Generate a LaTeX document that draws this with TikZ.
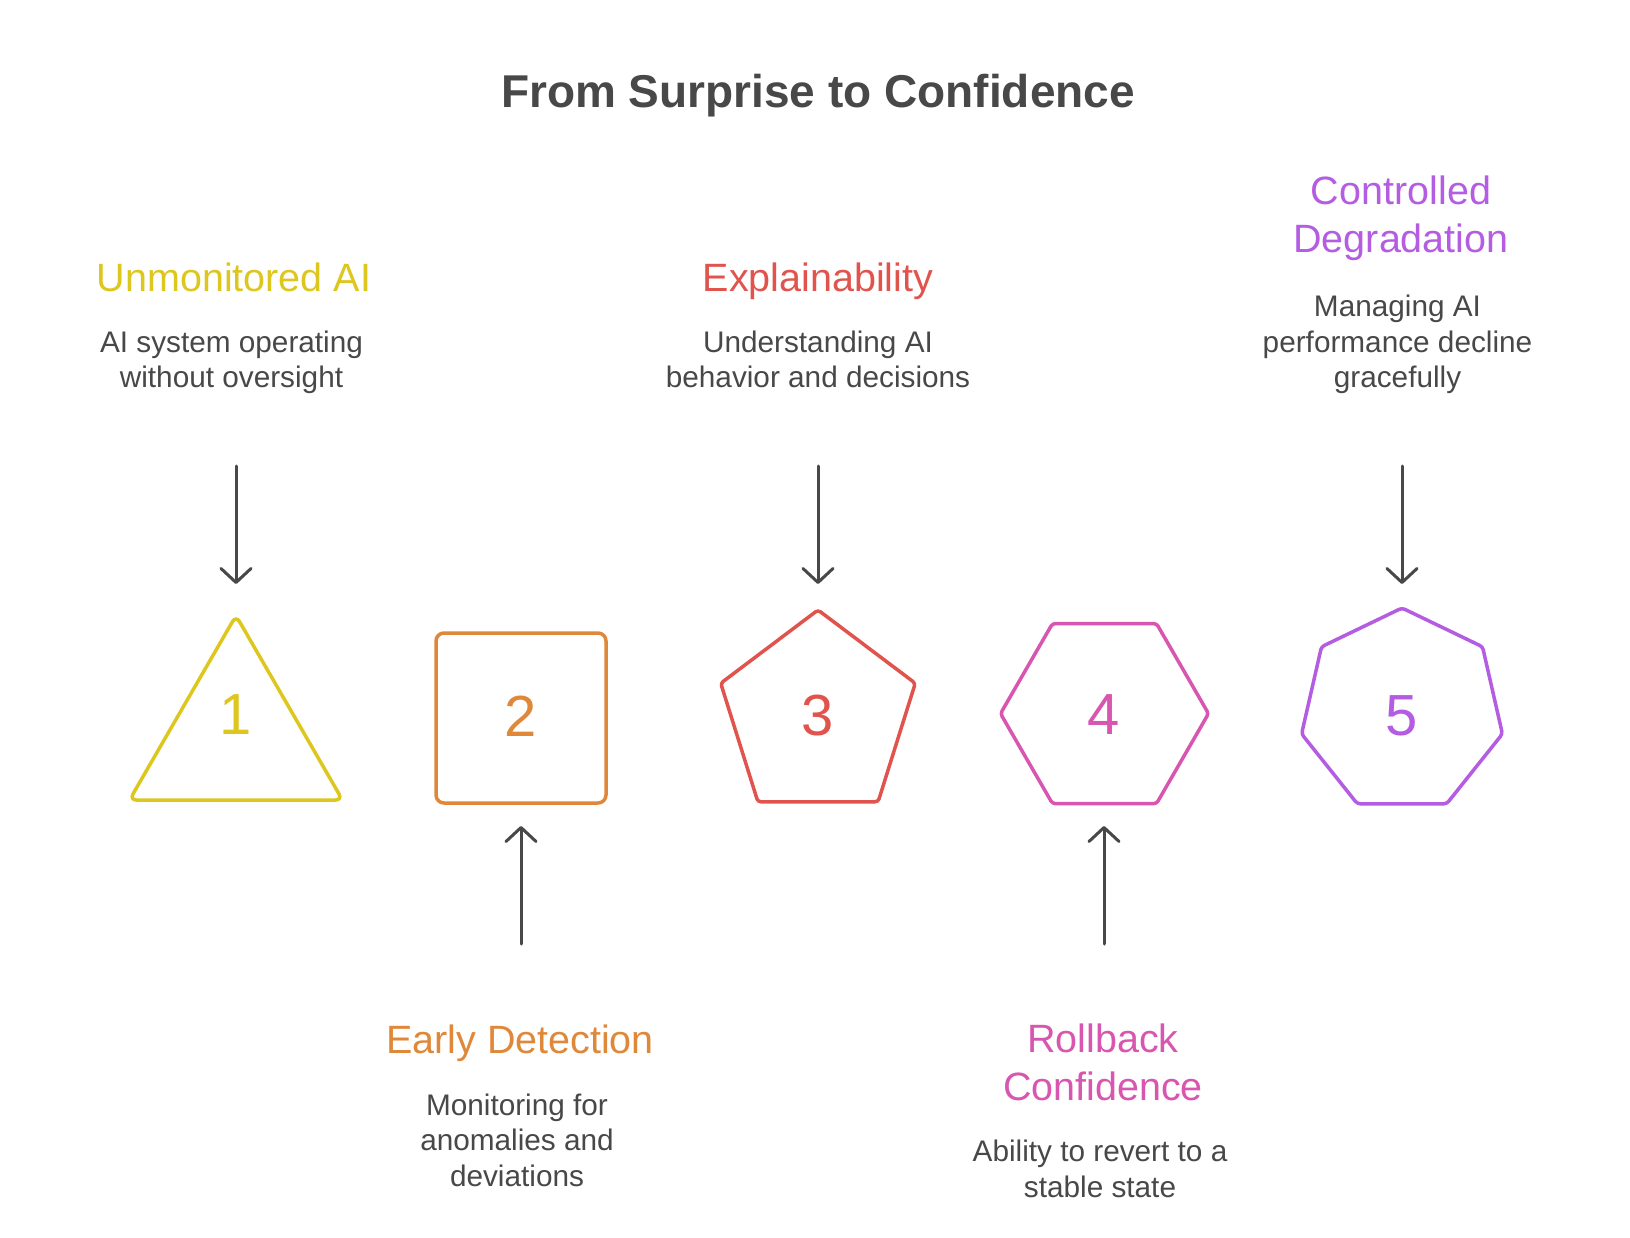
\documentclass[tikz,border=0pt]{standalone}
\usepackage{fontspec}
\setmainfont{Liberation Sans}
\usetikzlibrary{shapes.geometric,arrows.meta}
\definecolor{yel}{RGB}{221,199,30}
\definecolor{org}{RGB}{224,136,58}
\definecolor{red}{RGB}{225,84,78}
\definecolor{pnk}{RGB}{216,86,176}
\definecolor{pur}{RGB}{180,92,226}
\definecolor{txt}{RGB}{72,72,72}
\begin{document}
\begin{tikzpicture}[x=1pt,y=-1pt,
  head/.style={anchor=base, align=center, inner sep=0pt, font=\fontsize{39.5}{48}\selectfont},
  desc/.style={anchor=base, align=center, inner sep=0pt, text=txt, font=\fontsize{29.75}{35.5}\selectfont},
  num/.style={inner sep=0pt, font=\fontsize{58}{58}\selectfont},
  poly/.style={regular polygon, line width=3.5pt, inner sep=0pt, line join=round, rounded corners=3pt},
  arr/.style={draw=txt, line width=3pt, line cap=round,
    -{Straight Barb[length=14pt,width=30pt,line cap=round,line join=round]}}]
\useasboundingbox (0,0) rectangle (1630,1238);
\fill[white] (0,0) rectangle (1630,1238);

% title
\node[anchor=base, inner sep=0pt, text=txt, font=\fontsize{46}{46}\selectfont\bfseries] (title) at (818,108) {From Surprise to Confidence};

% texts above (anchor base = baseline of last line)
\node[head, text=yel] (h1) at (234,292) {Unmonitored AI};
\node[desc] (d1) at (231.5,388) {AI system operating\\without oversight};
\node[head, text=red] (h3) at (818,292) {Explainability};
\node[desc] (d3) at (818,388) {Understanding AI\\behavior and decisions};
\node[head, text=pur] (h5) at (1401,253) {Controlled\\Degradation};
\node[desc] (d5) at (1397.5,388) {Managing AI\\performance decline\\gracefully};

% texts below
\node[head, text=org] (h2) at (520,1053) {Early Detection};
\node[desc] (d2) at (517,1186) {Monitoring for\\anomalies and\\deviations};
\node[head, text=pnk] (h4) at (1103,1100) {Rollback\\Confidence};
\node[desc] (d4) at (1100,1197) {Ability to revert to a\\stable state};

% shapes
\node[poly, regular polygon sides=3, draw=yel, minimum size=246pt, rounded corners=7pt] (s1) at (236,738.5) {};
\node[draw=org, line width=3.5pt, rounded corners=8pt, minimum width=170pt, minimum height=170pt, inner sep=0pt] (s2) at (521,718) {};
\node[poly, regular polygon sides=5, draw=red, minimum size=212pt, xscale=0.965, transform shape] (s3) at (818,716) {};
\node[poly, regular polygon sides=6, draw=pnk, minimum size=208pt] (s4) at (1104.5,713.6) {};
\node[poly, regular polygon sides=7, draw=pur, minimum size=206pt] (s5) at (1402,711) {};

% numbers
\node[num, text=yel] (n1) at (236,715) {1};
\node[num, text=org] (n2) at (521,716) {2};
\node[num, text=red] (n3) at (818,716) {3};
\node[num, text=pnk] (n4) at (1104,715) {4};
\node[num, text=pur] (n5) at (1402,716) {5};

% arrow ends
\coordinate (a1s) at (236,466);  \coordinate (a1e) at (236,584);
\coordinate (a3s) at (818,466);  \coordinate (a3e) at (818,584);
\coordinate (a5s) at (1402,466); \coordinate (a5e) at (1402,584);
\coordinate (a2s) at (521,944);  \coordinate (a2e) at (521,826);
\coordinate (a4s) at (1104,944); \coordinate (a4e) at (1104,826);

\draw[arr] (a1s) -- (a1e);
\draw[arr] (a3s) -- (a3e);
\draw[arr] (a5s) -- (a5e);
\draw[arr] (a2s) -- (a2e);
\draw[arr] (a4s) -- (a4e);
\end{tikzpicture}
\end{document}
